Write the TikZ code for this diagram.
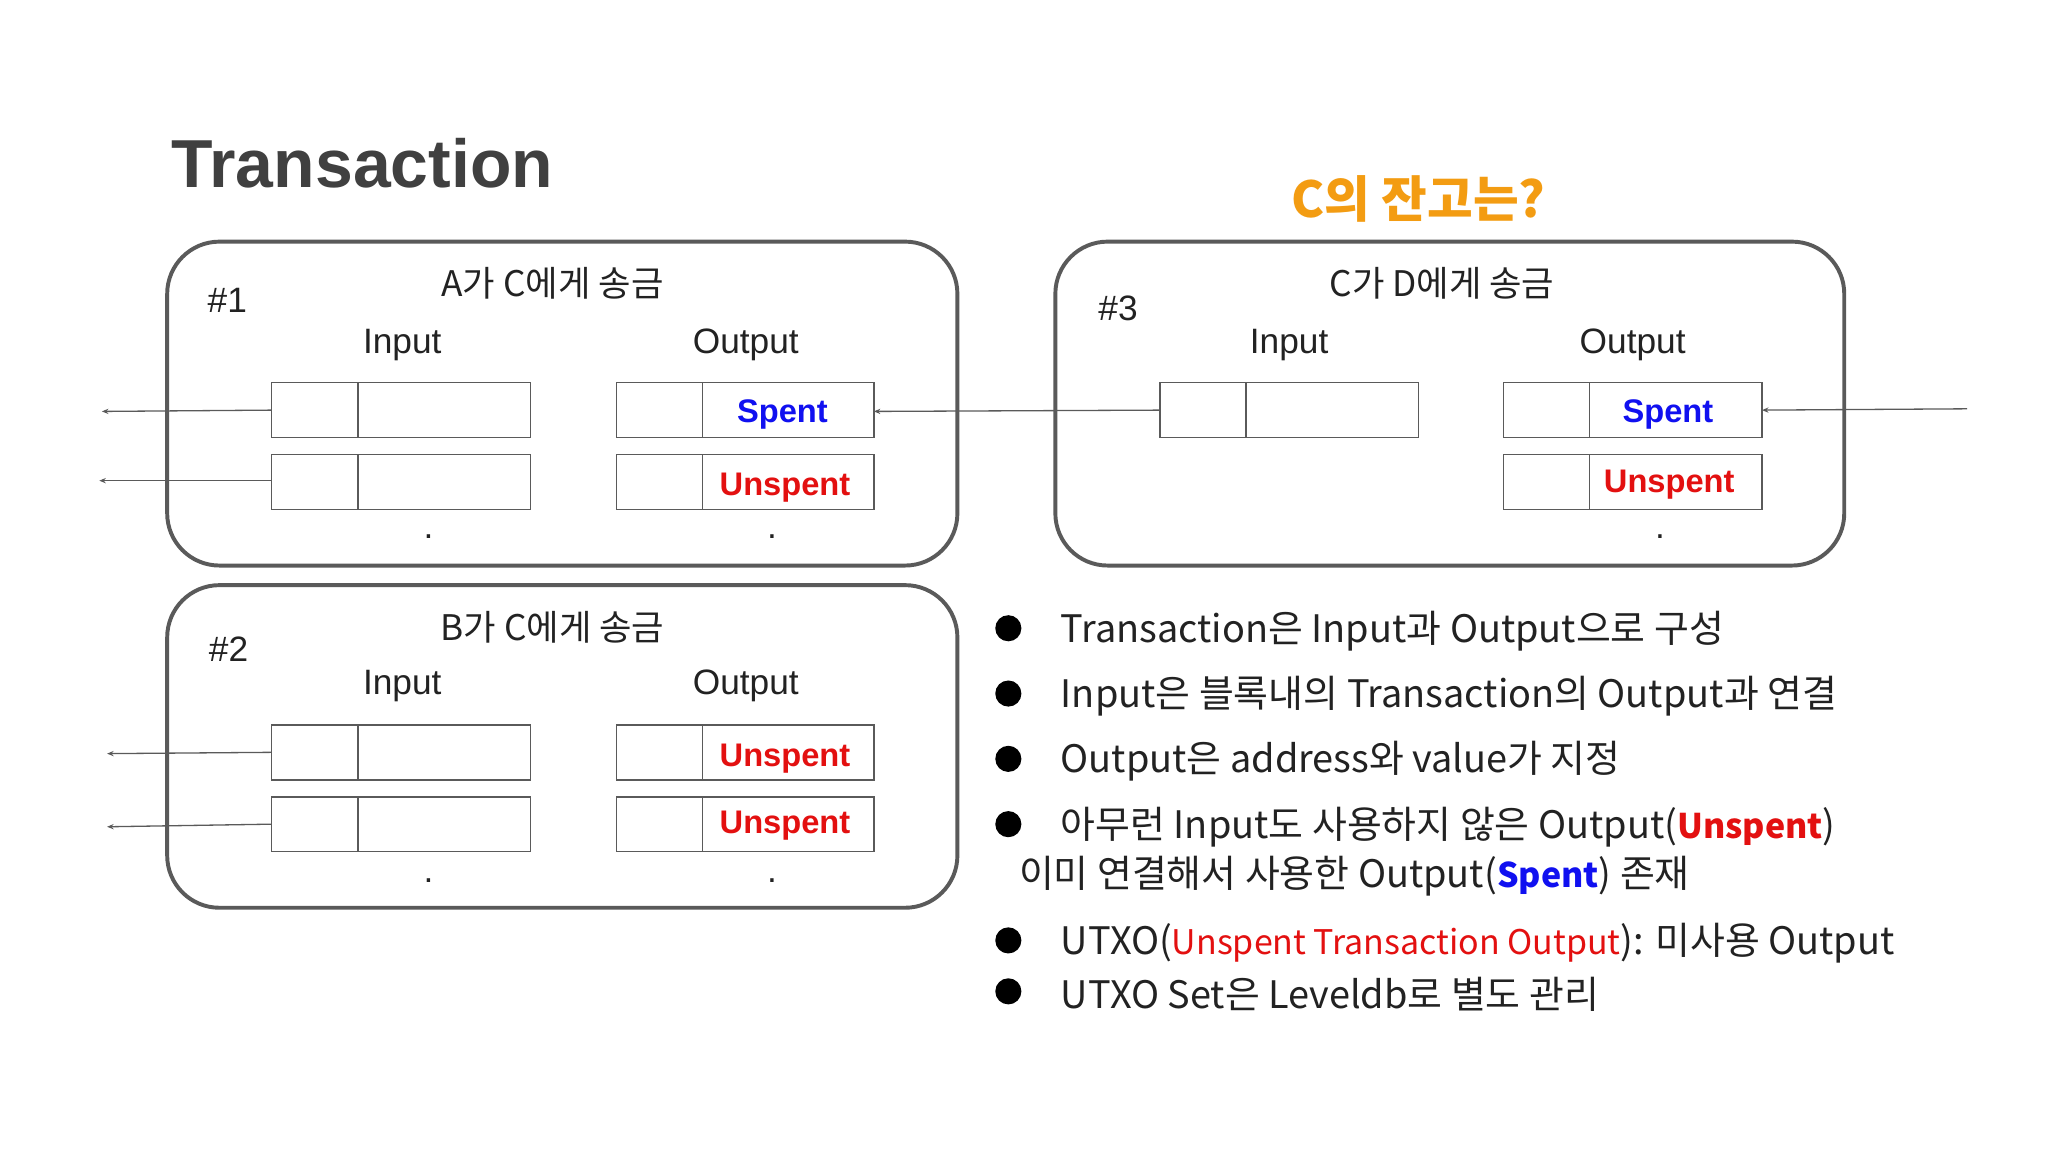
\documentclass[tikz,border=0pt]{standalone}
\usepackage{fontspec}
\usetikzlibrary{arrows.meta}
\setmainfont{Liberation Sans}
\newfontfamily\kr{Noto Sans CJK KR}
\definecolor{boxgray}{HTML}{5A5A5A}
\definecolor{sp}{HTML}{1010F0}
\definecolor{us}{HTML}{E31010}
\definecolor{org}{HTML}{F39C12}
\definecolor{txt}{HTML}{222222}
\newcommand{\smallred}[1]{{\fontsize{26}{30}\selectfont\textcolor{us}{#1}}}
\begin{document}
\begin{tikzpicture}[x=1pt,y=-1pt,
  panel/.style={draw=boxgray,line width=3pt,rounded corners=40pt},
  cell/.style={draw=boxgray,line width=1.2pt},
  lab/.style={font=\fontsize{27}{30}\selectfont,text=txt},
  klab/.style={font=\kr\fontsize{27}{30}\selectfont,text=txt},
  spent/.style={font=\bfseries\fontsize{25}{28}\selectfont,text=sp},
  unsp/.style={font=\bfseries\fontsize{25}{28}\selectfont,text=us},
  conn/.style={draw=boxgray,line width=1pt,-{Stealth[length=5pt,width=4pt]}},
  bul/.style={font=\kr\fontsize{29}{32}\selectfont,text=txt,anchor=west,inner sep=0pt},
  dotb/.style={circle,fill=black,minimum size=20pt,inner sep=0pt}]
\useasboundingbox (0,0) rectangle (1568,882);
\fill[white] (0,0) rectangle (1568,882);
\node[font=\bfseries\fontsize{52}{56}\selectfont,text=black!75,anchor=west] (title) at (128,125) {Transaction};
\node[font=\kr\bfseries\fontsize{38}{42}\selectfont,text=org] (q) at (1086,152) {C의 잔고는?};
% panels
\draw[panel] (128,185) rectangle (733,433);
\draw[panel] (128,448) rectangle (733,695);
\draw[panel] (808,185) rectangle (1412,433);
% panel 1
\node[lab] (n1) at (174,230) {\#1};
\node[klab] (t1) at (423,217) {A가 C에게 송금};
\node[lab] (i1) at (308,264) {Input};
\node[lab] (o1) at (571,264) {Output};
\draw[cell] (208,293) rectangle (406,335) (274,293)--(274,335);
\draw[cell] (208,348) rectangle (406,390) (274,348)--(274,390);
\draw[cell] (472,293) rectangle (669,335) (538,293)--(538,335);
\draw[cell] (472,348) rectangle (669,390) (538,348)--(538,390);
\node[spent] (s1) at (599,317) {Spent};
\node[unsp] (u1) at (601,373) {Unspent};
\node[lab] at (328,411) {.};
\node[lab] at (591,411) {.};
\coordinate (in1a) at (208,314); \coordinate (in1b) at (208,368);
\coordinate (e1a) at (78,315); \coordinate (e1b) at (76,368);
\coordinate (sp1) at (669,315);
% panel 2
\node[lab] (n2) at (175,497) {\#2};
\node[klab] (t2) at (423,480) {B가 C에게 송금};
\node[lab] (i2) at (308,525) {Input};
\node[lab] (o2) at (571,525) {Output};
\draw[cell] (208,555) rectangle (406,597) (274,555)--(274,597);
\draw[cell] (208,610) rectangle (406,652) (274,610)--(274,652);
\draw[cell] (472,555) rectangle (669,597) (538,555)--(538,597);
\draw[cell] (472,610) rectangle (669,652) (538,610)--(538,652);
\node[unsp] (u2a) at (601,581) {Unspent};
\node[unsp] (u2b) at (601,632) {Unspent};
\node[lab] at (328,674) {.};
\node[lab] at (591,674) {.};
\coordinate (in2a) at (208,576); \coordinate (in2b) at (208,631);
\coordinate (e2a) at (82,577); \coordinate (e2b) at (82,633);
% panel 3
\node[lab] (n3) at (856,236) {\#3};
\node[klab] (t3) at (1104,217) {C가 D에게 송금};
\node[lab] (i3) at (987,264) {Input};
\node[lab] (o3) at (1250,264) {Output};
\draw[cell] (888,293) rectangle (1086,335) (954,293)--(954,335);
\draw[cell] (1151,293) rectangle (1349,335) (1217,293)--(1217,335);
\draw[cell] (1151,348) rectangle (1349,390) (1217,348)--(1217,390);
\node[spent] (s3) at (1277,317) {Spent};
\node[unsp] (u3) at (1278,371) {Unspent};
\node[lab] at (1271,411) {.};
\coordinate (in3) at (888,314);
\coordinate (sp3) at (1349,314);
\coordinate (e3) at (1506,313);
% connectors
\draw[conn] (in1a) -- (e1a);
\draw[conn] (in1b) -- (e1b);
\draw[conn] (in2a) -- (e2a);
\draw[conn] (in2b) -- (e2b);
\draw[conn] (in3) -- (sp1);
\draw[conn] (e3) -- (sp3);
% bullets
\foreach \y in {481,531,581,631,720,759} \node[dotb] at (772,\y) {};
\node[bul] (b1) at (812,483) {Transaction은 Input과 Output으로 구성};
\node[bul] (b2) at (812,533) {Input은 블록내의 Transaction의 Output과 연결};
\node[bul] (b3) at (812,583) {Output은 address와 value가 지정};
\node[bul] (b4) at (812,633) {아무런 Input도 사용하지 않은 Output({\fontsize{26}{30}\selectfont\textcolor{us}{\bfseries Unspent}})};
\node[bul] (b5) at (780,671) {이미 연결해서 사용한 Output({\fontsize{26}{30}\selectfont\textcolor{sp}{\bfseries Spent}}) 존재};
\node[bul] (b6) at (812,722) {UTXO(\smallred{Unspent Transaction Output}): 미사용 Output};
\node[bul] (b7) at (812,761) {UTXO Set은 Leveldb로 별도 관리};
\end{tikzpicture}
\end{document}
